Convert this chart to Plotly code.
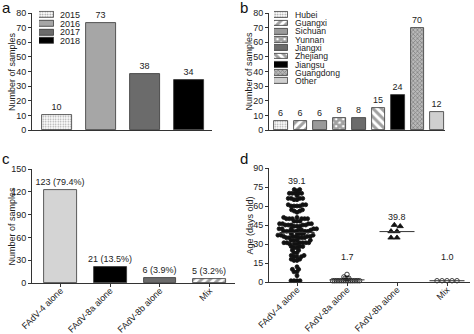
import plotly.graph_objects as go

FONT = "Liberation Sans, Arial, sans-serif"
W, H = 474, 334
INK = "#222222"

# ---------------- data ----------------
years = ["2015", "2016", "2017", "2018"]
year_counts = [10, 73, 38, 34]

provinces = ["Hubei", "Guangxi", "Sichuan", "Yunnan", "Jiangxi",
             "Zhejiang", "Jiangsu", "Guangdong", "Other"]
province_counts = [6, 6, 6, 8, 8, 15, 24, 70, 12]

types = ["FAdV-4 alone", "FAdV-8a alone", "FAdV-8b alone", "Mix"]
type_counts = [123, 21, 6, 5]

# panel d: ages (days old)
fadv4_age_values = [73, 72, 70, 68, 66, 65, 61, 60, 57, 56, 55, 51, 50, 48, 46, 45, 44,
                    42, 41, 40, 38, 37, 36, 35, 33, 31, 30, 28, 27, 25, 23, 21, 20,
                    18, 17, 12, 10, 8, 5, 1]
fadv4_age_counts = [2, 1, 5, 1, 4, 2, 3, 4, 2, 2, 1, 2, 6, 3, 4, 5, 3,
                    5, 3, 7, 4, 3, 5, 5, 4, 6, 3, 3, 2, 2, 2, 2, 3,
                    2, 2, 1, 2, 2, 1, 4]
fadv8a_age_values = [1, 3, 4, 6]
fadv8a_age_counts = [16, 3, 1, 1]
fadv8b_ages = [45, 44, 40, 40, 35, 35]
mix_ages = [1, 1, 1, 1, 1]
age_means = [39.1, 1.7, 39.8, 1.0]


def expand(values, counts):
    out = []
    for v, c in zip(values, counts):
        out += [v] * c
    return out


age_groups = [expand(fadv4_age_values, fadv4_age_counts),
              expand(fadv8a_age_values, fadv8a_age_counts),
              list(fadv8b_ages), list(mix_ages)]


# ---------------- helpers ----------------
def px(x):
    return x / W


def py(y):
    return 1 - y / H


def beeswarm(values, diam, xscale, yscale):
    placed = []
    res = [0.0] * len(values)
    order = sorted(range(len(values)), key=lambda i: values[i])
    for i in order:
        y = values[i] * yscale
        near = [(xj, yj) for xj, yj in placed if abs(yj - y) < diam]
        cands = [0.0]
        for xj, yj in near:
            dx = (diam ** 2 - (y - yj) ** 2) ** 0.5
            cands += [xj + dx, xj - dx]
        best = 0.0
        for c in sorted(cands, key=lambda c: (round(abs(c), 6), c)):
            if all((c - xj) ** 2 + (y - yj) ** 2 >= diam ** 2 - 1e-6 for xj, yj in near):
                best = c
                break
        placed.append((best, y))
        res[i] = best / xscale
    return res


fig = go.Figure()

tickfont = dict(family=FONT, size=9, color=INK)
axline = dict(showline=True, linecolor="#333333", linewidth=1, zeroline=False,
              showgrid=False, automargin=False)
barline = dict(color="#333333", width=0.8)

# ---------------- panel a ----------------
a_colors = ["#ffffff", "#a6a6a6", "#6b6b6b", "#000000"]
a_shape = [".", "", "", ""]
a_marker = dict(color=a_colors, line=barline,
                pattern=dict(shape=a_shape, fillmode="overlay",
                             fgcolor=["#a0a0a0"] + a_colors[1:],
                             size=2.5, solidity=0.3))
fig.add_trace(go.Bar(
    x=list(range(len(years))), y=year_counts, width=0.68, marker=a_marker,
    text=[str(v) for v in year_counts], textposition="outside", cliponaxis=False,
    constraintext="none", textfont=dict(family=FONT, size=9, color=INK),
    xaxis="x", yaxis="y", showlegend=False))

# legend a (swatches as small bars)
fig.add_trace(go.Bar(
    x=[1] * len(years), y=list(range(len(years))), orientation="h", width=0.68,
    marker=a_marker, xaxis="x5", yaxis="y5", showlegend=False, hoverinfo="skip"))

# ---------------- panel b ----------------
b_colors = ["#ffffff", "#ffffff", "#9a9a9a", "#ffffff", "#6b6b6b",
            "#ffffff", "#000000", "#b8b8b8", "#cfcfcf"]
b_shape = [".", "/", "", "x", "", "\\", "", "x", ""]
b_fg = ["#a0a0a0", "#000000", "#9a9a9a", "#000000", "#6b6b6b",
        "#000000", "#000000", "#404040", "#cfcfcf"]
b_size = [2.5, 6, 4, 5, 4, 6, 4, 3, 4]
b_sol = [0.3, 0.5, 0.3, 0.8, 0.3, 0.5, 0.3, 0.4, 0.3]
b_marker = dict(color=b_colors, line=barline,
                pattern=dict(shape=b_shape, fillmode="overlay", fgcolor=b_fg,
                             size=b_size, solidity=b_sol))
fig.add_trace(go.Bar(
    x=list(range(len(provinces))), y=province_counts, width=0.67,
    marker=b_marker,
    text=[str(v) for v in province_counts], textposition="outside", cliponaxis=False,
    constraintext="none", textfont=dict(family=FONT, size=9, color=INK),
    xaxis="x2", yaxis="y2", showlegend=False))
fig.add_trace(go.Bar(
    x=[1] * len(provinces), y=list(range(len(provinces))), orientation="h", width=0.7,
    marker=b_marker, xaxis="x6", yaxis="y6", showlegend=False, hoverinfo="skip"))

# ---------------- panel c ----------------
total = sum(type_counts)
c_colors = ["#d4d4d4", "#000000", "#6b6b6b", "#ffffff"]
c_shape = ["", "", "", "/"]
fig.add_trace(go.Bar(
    x=list(range(len(types))), y=type_counts, width=0.66,
    marker=dict(color=c_colors, line=barline,
                pattern=dict(shape=c_shape, fillmode="overlay",
                             fgcolor=c_colors[:3] + ["#000000"], size=6, solidity=0.5)),
    text=[f"{v} ({100 * v / total:.1f}%)" for v in type_counts],
    textposition="outside", cliponaxis=False, constraintext="none",
    textfont=dict(family=FONT, size=9, color=INK),
    xaxis="x3", yaxis="y3", showlegend=False))

# ---------------- panel d ----------------
d_xscale = 50.0          # px per category unit
d_yscale = 114.0 / 90.0  # px per day
d_diam = [3.0, 1.8, 6.0, 5.0]
d_sym = ["circle", "circle-open", "triangle-up", "circle-open"]
d_size = [4.0, 4.5, 5.5, 4.5]
for gi, ages in enumerate(age_groups):
    offs = beeswarm(ages, d_diam[gi], d_xscale, d_yscale)
    fig.add_trace(go.Scatter(
        x=[gi + o for o in offs], y=ages, mode="markers",
        marker=dict(symbol=d_sym[gi], size=d_size[gi], color="#111111",
                    line=dict(color="#111111", width=0.8)),
        cliponaxis=False, xaxis="x4", yaxis="y4", showlegend=False))
    fig.add_trace(go.Scatter(
        x=[gi - 0.35, gi + 0.35], y=[age_means[gi]] * 2, mode="lines",
        line=dict(color="#333333", width=1), cliponaxis=False,
        xaxis="x4", yaxis="y4", showlegend=False))
    fig.add_annotation(x=gi, y=max(max(ages) + 6.5, 20), xref="x4", yref="y4",
                       text=f"{age_means[gi]:.1f}", showarrow=False,
                       xanchor="center", yanchor="middle",
                       font=dict(family=FONT, size=9, color=INK))

# ---------------- axes ----------------
ytick = dict(ticks="outside", ticklen=3, tickcolor="#333333", tickfont=tickfont)
hidden = dict(visible=False, automargin=False)
layout_axes = dict(
    xaxis=dict(domain=[px(32), px(212)], range=[-0.568, 3.523], anchor="y",
               showticklabels=False, ticks="", **axline),
    yaxis=dict(domain=[py(130), py(13)], range=[0, 80], anchor="x", dtick=10,
               **ytick, **axline),
    xaxis2=dict(domain=[px(269), px(445)], range=[-0.615, 8.41], anchor="y2",
                showticklabels=False, ticks="", **axline),
    yaxis2=dict(domain=[py(130), py(13)], range=[0, 80], anchor="x2", dtick=10,
                **ytick, **axline),
    xaxis3=dict(domain=[px(32), px(235)], range=[-0.573, 3.51], anchor="y3",
                tickvals=list(range(len(types))), ticktext=types, tickangle=-45,
                ticklabelstandoff=-5, **ytick, **axline),
    yaxis3=dict(domain=[py(283), py(169)], range=[0, 150], anchor="x3", dtick=30,
                **ytick, **axline),
    xaxis4=dict(domain=[px(269), px(470)], range=[-0.56, 3.46], anchor="y4",
                tickvals=list(range(len(types))), ticktext=types, tickangle=-45,
                ticklabelstandoff=-5, **ytick, **axline),
    yaxis4=dict(domain=[py(282), py(168)], range=[0, 90], anchor="x4", dtick=15,
                **ytick, **axline),
    xaxis5=dict(domain=[px(39), px(54)], range=[0, 1], anchor="y5", **hidden),
    yaxis5=dict(domain=[py(45.5), py(10.7)], range=[len(years) - 0.5, -0.5],
                anchor="x5", **hidden),
    xaxis6=dict(domain=[px(274), px(288)], range=[0, 1], anchor="y6", **hidden),
    yaxis6=dict(domain=[py(85.2), py(10.8)], range=[len(provinces) - 0.5, -0.5],
                anchor="x6", **hidden),
)

# legend labels
for i, t in enumerate(years):
    fig.add_annotation(x=px(58), y=i, xref="paper", yref="y5", text=t, showarrow=False,
                       xanchor="left", yanchor="middle",
                       font=dict(family=FONT, size=9, color=INK))
for i, t in enumerate(provinces):
    fig.add_annotation(x=px(293), y=i, xref="paper", yref="y6", text=t, showarrow=False,
                       xanchor="left", yanchor="middle",
                       font=dict(family=FONT, size=8.6, color=INK))

# axis titles
for xp, yc, t in [(12.5, 71.5, "Number of samples"), (249, 71.5, "Number of samples"),
                  (11.5, 226, "Number of samples"), (249.5, 225, "Age (days old)")]:
    fig.add_annotation(x=px(xp), y=py(yc), xref="paper", yref="paper", text=t,
                       textangle=-90, showarrow=False, xanchor="center",
                       yanchor="middle", font=dict(family=FONT, size=9, color=INK))

# panel letters
for xp, yc, t in [(0, 8, "a"), (238, 8, "b"), (0, 158, "c"), (238, 158, "d")]:
    fig.add_annotation(x=px(xp), y=py(yc), xref="paper", yref="paper", text=t,
                       xanchor="left", yanchor="middle", showarrow=False,
                       font=dict(family=FONT, size=15, color="#111111"))

fig.update_layout(
    template="none",
    width=W, height=H, margin=dict(l=0, r=0, t=0, b=0, pad=0),
    paper_bgcolor="white", plot_bgcolor="white", bargap=0,
    font=dict(family=FONT, size=9, color=INK),
    **layout_axes)

fig.write_html("out.html")
